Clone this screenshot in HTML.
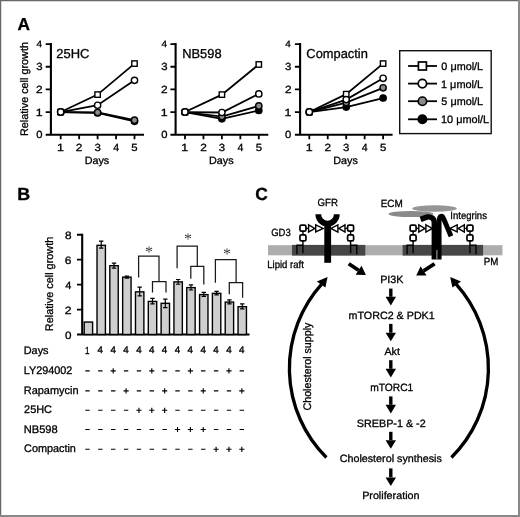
<!DOCTYPE html>
<html lang="en">
<head>
<meta charset="utf-8">
<title>Figure</title>
<style>
html,body{margin:0;padding:0;background:#fff;}
body{width:520px;height:517px;overflow:hidden;position:relative;}
#fig{position:absolute;left:0;top:0;width:520px;height:517px;box-sizing:border-box;background:#fff;}
svg{display:block;position:absolute;left:0;top:0;}
svg text{font-family:'Liberation Sans', sans-serif;fill:#000;stroke:#000;stroke-width:0.3px;text-rendering:geometricPrecision;}
</style>
</head>
<body>
<div id="fig">
<svg width="520" height="517" viewBox="0 0 520 517">
<rect x="0" y="0" width="520" height="517" fill="#fff"/>
<text transform="translate(17.57,30) scale(0.9950,1)" font-size="17.4" font-weight="bold">A</text>
<path d="M50.9 43.1 V134.7 M45.699999999999996 134.7 H144.00" fill="none" stroke="#000" stroke-width="2.1"/>
<path d="M45.70 112.05 H50.9 M45.70 89.4 H50.9 M45.70 66.75 H50.9 M45.70 44.1 H50.9 M60.70 134.7 V139.30 M79.15 134.7 V139.30 M97.60 134.7 V139.30 M116.05 134.7 V139.30 M134.50 134.7 V139.30 " fill="none" stroke="#000" stroke-width="1.8"/>
<text transform="translate(36.25,138.29999999999998) scale(1.0817,1)" font-size="10.4">0</text>
<text transform="translate(35.77,115.64999999999999) scale(1.1936,1)" font-size="10.4">1</text>
<text transform="translate(36.11,93.0) scale(1.1412,1)" font-size="10.4">2</text>
<text transform="translate(36.25,70.35) scale(1.0931,1)" font-size="10.4">3</text>
<text transform="translate(36.50,47.300000000000004) scale(1.0870,1)" font-size="9.2">4</text>
<text transform="translate(57.07,150.8) scale(1.1936,1)" font-size="10.4">1</text>
<text transform="translate(75.86,150.8) scale(1.1412,1)" font-size="10.4">2</text>
<text transform="translate(94.45,150.8) scale(1.0931,1)" font-size="10.4">3</text>
<text transform="translate(113.14,150.8) scale(1.0181,1)" font-size="10.4">4</text>
<text transform="translate(131.35,150.8) scale(1.0931,1)" font-size="10.4">5</text>
<text transform="translate(84.64,164.3) scale(1.0197,1)" font-size="10.6">Days</text>
<text transform="translate(56.35,58.4) scale(0.9966,1)" font-size="13">25HC</text>
<polyline points="60.70,112.05 97.60,112.96 134.50,121.34" fill="none" stroke="#000" stroke-width="1.8"/>
<polyline points="60.70,112.05 97.60,112.50 134.50,120.20" fill="none" stroke="#000" stroke-width="1.8"/>
<polyline points="60.70,112.05 97.60,94.61 134.50,63.58" fill="none" stroke="#000" stroke-width="1.8"/>
<polyline points="60.70,112.05 97.60,105.25 134.50,80.34" fill="none" stroke="#000" stroke-width="1.8"/>
<circle cx="60.70" cy="112.05" r="3.15" fill="#000" stroke="#000" stroke-width="1.4"/>
<circle cx="97.60" cy="112.96" r="3.15" fill="#000" stroke="#000" stroke-width="1.4"/>
<circle cx="134.50" cy="121.34" r="3.15" fill="#000" stroke="#000" stroke-width="1.4"/>
<circle cx="60.70" cy="112.05" r="3.15" fill="#8c8c8c" stroke="#000" stroke-width="1.4"/>
<circle cx="97.60" cy="112.50" r="3.15" fill="#8c8c8c" stroke="#000" stroke-width="1.4"/>
<circle cx="134.50" cy="120.20" r="3.15" fill="#8c8c8c" stroke="#000" stroke-width="1.4"/>
<rect x="58.00" y="109.35" width="5.4" height="5.4" fill="#fff" stroke="#000" stroke-width="1.4"/>
<rect x="94.90" y="91.91" width="5.4" height="5.4" fill="#fff" stroke="#000" stroke-width="1.4"/>
<rect x="131.80" y="60.88" width="5.4" height="5.4" fill="#fff" stroke="#000" stroke-width="1.4"/>
<circle cx="60.70" cy="112.05" r="3.15" fill="#fff" stroke="#000" stroke-width="1.4"/>
<circle cx="97.60" cy="105.25" r="3.15" fill="#fff" stroke="#000" stroke-width="1.4"/>
<circle cx="134.50" cy="80.34" r="3.15" fill="#fff" stroke="#000" stroke-width="1.4"/>
<path d="M175.6 43.1 V134.7 M170.4 134.7 H268.30" fill="none" stroke="#000" stroke-width="2.1"/>
<path d="M170.40 112.05 H175.6 M170.40 89.4 H175.6 M170.40 66.75 H175.6 M170.40 44.1 H175.6 M185.00 134.7 V139.30 M203.45 134.7 V139.30 M221.90 134.7 V139.30 M240.35 134.7 V139.30 M258.80 134.7 V139.30 " fill="none" stroke="#000" stroke-width="1.8"/>
<text transform="translate(161.25,138.29999999999998) scale(1.0817,1)" font-size="10.4">0</text>
<text transform="translate(160.77,115.64999999999999) scale(1.1936,1)" font-size="10.4">1</text>
<text transform="translate(161.11,93.0) scale(1.1412,1)" font-size="10.4">2</text>
<text transform="translate(161.25,70.35) scale(1.0931,1)" font-size="10.4">3</text>
<text transform="translate(161.50,47.300000000000004) scale(1.0870,1)" font-size="9.2">4</text>
<text transform="translate(181.37,150.8) scale(1.1936,1)" font-size="10.4">1</text>
<text transform="translate(200.16,150.8) scale(1.1412,1)" font-size="10.4">2</text>
<text transform="translate(218.75,150.8) scale(1.0931,1)" font-size="10.4">3</text>
<text transform="translate(237.44,150.8) scale(1.0181,1)" font-size="10.4">4</text>
<text transform="translate(255.65,150.8) scale(1.0931,1)" font-size="10.4">5</text>
<text transform="translate(208.94,164.3) scale(1.0197,1)" font-size="10.6">Days</text>
<text transform="translate(182.17,58.4) scale(0.9907,1)" font-size="13">NB598</text>
<polyline points="185.00,112.05 221.90,118.84 258.80,110.46" fill="none" stroke="#000" stroke-width="1.8"/>
<polyline points="185.00,112.05 221.90,116.58 258.80,105.93" fill="none" stroke="#000" stroke-width="1.8"/>
<polyline points="185.00,112.05 221.90,94.61 258.80,64.48" fill="none" stroke="#000" stroke-width="1.8"/>
<polyline points="185.00,112.05 221.90,112.50 258.80,93.93" fill="none" stroke="#000" stroke-width="1.8"/>
<circle cx="185.00" cy="112.05" r="3.15" fill="#000" stroke="#000" stroke-width="1.4"/>
<circle cx="221.90" cy="118.84" r="3.15" fill="#000" stroke="#000" stroke-width="1.4"/>
<circle cx="258.80" cy="110.46" r="3.15" fill="#000" stroke="#000" stroke-width="1.4"/>
<circle cx="185.00" cy="112.05" r="3.15" fill="#8c8c8c" stroke="#000" stroke-width="1.4"/>
<circle cx="221.90" cy="116.58" r="3.15" fill="#8c8c8c" stroke="#000" stroke-width="1.4"/>
<circle cx="258.80" cy="105.93" r="3.15" fill="#8c8c8c" stroke="#000" stroke-width="1.4"/>
<rect x="182.30" y="109.35" width="5.4" height="5.4" fill="#fff" stroke="#000" stroke-width="1.4"/>
<rect x="219.20" y="91.91" width="5.4" height="5.4" fill="#fff" stroke="#000" stroke-width="1.4"/>
<rect x="256.10" y="61.78" width="5.4" height="5.4" fill="#fff" stroke="#000" stroke-width="1.4"/>
<circle cx="185.00" cy="112.05" r="3.15" fill="#fff" stroke="#000" stroke-width="1.4"/>
<circle cx="221.90" cy="112.50" r="3.15" fill="#fff" stroke="#000" stroke-width="1.4"/>
<circle cx="258.80" cy="93.93" r="3.15" fill="#fff" stroke="#000" stroke-width="1.4"/>
<path d="M300.1 43.1 V134.7 M294.90000000000003 134.7 H392.60" fill="none" stroke="#000" stroke-width="2.1"/>
<path d="M294.90 112.05 H300.1 M294.90 89.4 H300.1 M294.90 66.75 H300.1 M294.90 44.1 H300.1 M309.30 134.7 V139.30 M327.75 134.7 V139.30 M346.20 134.7 V139.30 M364.65 134.7 V139.30 M383.10 134.7 V139.30 " fill="none" stroke="#000" stroke-width="1.8"/>
<text transform="translate(285.05,138.29999999999998) scale(1.0817,1)" font-size="10.4">0</text>
<text transform="translate(284.57,115.64999999999999) scale(1.1936,1)" font-size="10.4">1</text>
<text transform="translate(284.91,93.0) scale(1.1412,1)" font-size="10.4">2</text>
<text transform="translate(285.05,70.35) scale(1.0931,1)" font-size="10.4">3</text>
<text transform="translate(285.30,47.300000000000004) scale(1.0870,1)" font-size="9.2">4</text>
<text transform="translate(305.67,150.8) scale(1.1936,1)" font-size="10.4">1</text>
<text transform="translate(324.46,150.8) scale(1.1412,1)" font-size="10.4">2</text>
<text transform="translate(343.05,150.8) scale(1.0931,1)" font-size="10.4">3</text>
<text transform="translate(361.74,150.8) scale(1.0181,1)" font-size="10.4">4</text>
<text transform="translate(379.95,150.8) scale(1.0931,1)" font-size="10.4">5</text>
<text transform="translate(333.24,164.3) scale(1.0197,1)" font-size="10.6">Days</text>
<text transform="translate(306.36,58.4) scale(0.9894,1)" font-size="13">Compactin</text>
<polyline points="309.30,112.05 346.20,107.07 383.10,98.01" fill="none" stroke="#000" stroke-width="1.8"/>
<polyline points="309.30,112.05 346.20,102.54 383.10,87.81" fill="none" stroke="#000" stroke-width="1.8"/>
<polyline points="309.30,112.05 346.20,94.16 383.10,63.58" fill="none" stroke="#000" stroke-width="1.8"/>
<polyline points="309.30,112.05 346.20,99.59 383.10,78.30" fill="none" stroke="#000" stroke-width="1.8"/>
<circle cx="309.30" cy="112.05" r="3.15" fill="#000" stroke="#000" stroke-width="1.4"/>
<circle cx="346.20" cy="107.07" r="3.15" fill="#000" stroke="#000" stroke-width="1.4"/>
<circle cx="383.10" cy="98.01" r="3.15" fill="#000" stroke="#000" stroke-width="1.4"/>
<circle cx="309.30" cy="112.05" r="3.15" fill="#8c8c8c" stroke="#000" stroke-width="1.4"/>
<circle cx="346.20" cy="102.54" r="3.15" fill="#8c8c8c" stroke="#000" stroke-width="1.4"/>
<circle cx="383.10" cy="87.81" r="3.15" fill="#8c8c8c" stroke="#000" stroke-width="1.4"/>
<rect x="306.60" y="109.35" width="5.4" height="5.4" fill="#fff" stroke="#000" stroke-width="1.4"/>
<rect x="343.50" y="91.46" width="5.4" height="5.4" fill="#fff" stroke="#000" stroke-width="1.4"/>
<rect x="380.40" y="60.88" width="5.4" height="5.4" fill="#fff" stroke="#000" stroke-width="1.4"/>
<circle cx="309.30" cy="112.05" r="3.15" fill="#fff" stroke="#000" stroke-width="1.4"/>
<circle cx="346.20" cy="99.59" r="3.15" fill="#fff" stroke="#000" stroke-width="1.4"/>
<circle cx="383.10" cy="78.30" r="3.15" fill="#fff" stroke="#000" stroke-width="1.4"/>
<text transform="translate(27.6,135.97) rotate(-90) scale(0.9843,1)" font-size="11">Relative cell growth</text>
<rect x="399.7" y="50.7" width="91.5" height="82.9" fill="#fff" stroke="#111" stroke-width="1.4"/>
<path d="M408.1 66 H437" stroke="#000" stroke-width="1.8"/>
<rect x="418.40" y="62.00" width="8" height="8" fill="#fff" stroke="#000" stroke-width="1.7"/>
<text transform="translate(441.37,69.9) scale(1.0030,1)" font-size="10.8">0 μmol/L</text>
<path d="M408.1 83.6 H437" stroke="#000" stroke-width="1.8"/>
<circle cx="422.4" cy="83.6" r="4.2" fill="#fff" stroke="#000" stroke-width="1.7"/>
<text transform="translate(440.98,87.5) scale(1.0123,1)" font-size="10.8">1 μmol/L</text>
<path d="M408.1 101.2 H437" stroke="#000" stroke-width="1.8"/>
<circle cx="422.4" cy="101.2" r="4.2" fill="#8c8c8c" stroke="#000" stroke-width="1.7"/>
<text transform="translate(441.37,105.10000000000001) scale(1.0030,1)" font-size="10.8">5 μmol/L</text>
<path d="M408.1 119.3 H437" stroke="#000" stroke-width="1.8"/>
<circle cx="422.4" cy="119.3" r="4.2" fill="#000" stroke="#000" stroke-width="1.7"/>
<text transform="translate(440.98,123.2) scale(1.0109,1)" font-size="10.8">10 μmol/L</text>
<text transform="translate(17.24,199.9) scale(1.0163,1)" font-size="17.6" font-weight="bold">B</text>
<path d="M82.2 233.74 V334.5 M77.0 334.5 H249.5" fill="none" stroke="#000" stroke-width="2.1"/>
<path d="M77.0 309.56 H82.2 M77.0 284.62 H82.2 M77.0 259.68 H82.2 M77.0 234.74 H82.2 " fill="none" stroke="#000" stroke-width="1.8"/>
<text transform="translate(64.93,339.0) scale(1.1006,1)" font-size="10.6">0</text>
<text transform="translate(64.78,314.06) scale(1.1611,1)" font-size="10.6">2</text>
<text transform="translate(65.18,289.12) scale(1.0359,1)" font-size="10.6">4</text>
<text transform="translate(64.80,264.18) scale(1.1361,1)" font-size="10.6">6</text>
<text transform="translate(64.93,239.24) scale(1.1122,1)" font-size="10.6">8</text>
<text transform="translate(53.4,331.17) rotate(-90) scale(0.9907,1)" font-size="11">Relative cell growth</text>
<rect x="84.20" y="322.03" width="8.4" height="12.47" fill="#cfcfcf" stroke="#000" stroke-width="1.4"/>
<rect x="97.02" y="245.34" width="8.4" height="89.16" fill="#cfcfcf" stroke="#000" stroke-width="1.4"/>
<path d="M101.22 241.22 V248.08 M99.02 241.22 h4.4 M99.02 248.08 h4.4" fill="none" stroke="#000" stroke-width="1.2"/>
<rect x="109.84" y="265.67" width="8.4" height="68.83" fill="#cfcfcf" stroke="#000" stroke-width="1.4"/>
<path d="M114.04 263.17 V268.16 M111.84 263.17 h4.4 M111.84 268.16 h4.4" fill="none" stroke="#000" stroke-width="1.2"/>
<rect x="122.66" y="277.14" width="8.4" height="57.36" fill="#cfcfcf" stroke="#000" stroke-width="1.4"/>
<path d="M126.86 276.14 V278.14 M124.66 276.14 h4.4 M124.66 278.14 h4.4" fill="none" stroke="#000" stroke-width="1.2"/>
<rect x="135.48" y="291.85" width="8.4" height="42.65" fill="#cfcfcf" stroke="#000" stroke-width="1.4"/>
<path d="M139.68 287.11 V295.84 M137.48 287.11 h4.4 M137.48 295.84 h4.4" fill="none" stroke="#000" stroke-width="1.2"/>
<rect x="148.30" y="301.45" width="8.4" height="33.05" fill="#cfcfcf" stroke="#000" stroke-width="1.4"/>
<path d="M152.50 298.46 V303.95 M150.30 298.46 h4.4 M150.30 303.95 h4.4" fill="none" stroke="#000" stroke-width="1.2"/>
<rect x="161.12" y="303.32" width="8.4" height="31.18" fill="#cfcfcf" stroke="#000" stroke-width="1.4"/>
<path d="M165.32 299.09 V307.69 M163.12 299.09 h4.4 M163.12 307.69 h4.4" fill="none" stroke="#000" stroke-width="1.2"/>
<rect x="173.94" y="281.88" width="8.4" height="52.62" fill="#cfcfcf" stroke="#000" stroke-width="1.4"/>
<path d="M178.14 279.51 V284.25 M175.94 279.51 h4.4 M175.94 284.25 h4.4" fill="none" stroke="#000" stroke-width="1.2"/>
<rect x="186.76" y="287.61" width="8.4" height="46.89" fill="#cfcfcf" stroke="#000" stroke-width="1.4"/>
<path d="M190.96 284.87 V289.98 M188.76 284.87 h4.4 M188.76 289.98 h4.4" fill="none" stroke="#000" stroke-width="1.2"/>
<rect x="199.58" y="294.6" width="8.4" height="39.90" fill="#cfcfcf" stroke="#000" stroke-width="1.4"/>
<path d="M203.78 292.35 V296.47 M201.58 292.35 h4.4 M201.58 296.47 h4.4" fill="none" stroke="#000" stroke-width="1.2"/>
<rect x="212.40" y="293.35" width="8.4" height="41.15" fill="#cfcfcf" stroke="#000" stroke-width="1.4"/>
<path d="M216.60 291.35 V294.97 M214.40 291.35 h4.4 M214.40 294.97 h4.4" fill="none" stroke="#000" stroke-width="1.2"/>
<rect x="225.22" y="302.08" width="8.4" height="32.42" fill="#cfcfcf" stroke="#000" stroke-width="1.4"/>
<path d="M229.42 299.96 V303.95 M227.22 299.96 h4.4 M227.22 303.95 h4.4" fill="none" stroke="#000" stroke-width="1.2"/>
<rect x="238.04" y="306.69" width="8.4" height="27.81" fill="#cfcfcf" stroke="#000" stroke-width="1.4"/>
<path d="M242.24 303.95 V308.94 M240.04 303.95 h4.4 M240.04 308.94 h4.4" fill="none" stroke="#000" stroke-width="1.2"/>
<path d="M138.6 277.6 V256 H159 V281.5 M152.5 292.4 V281.5 H166 V292.4 M177.1 268.3 V246.2 H197.3 V266.4 M190.8 278.7 V266.4 H203.8 V284.5 M215.4 282.7 V259.5 H236.1 V282.7 M229.3 294.3 V282.7 H242.6 V297.8" fill="none" stroke="#1a1a1a" stroke-width="1.25"/>
<text x="149.1" y="256.7" font-size="16" text-anchor="middle" style="font-family:'Liberation Serif','DejaVu Serif',serif;fill:#3a3a3a;stroke:none">*</text>
<text x="188.1" y="243.5" font-size="16" text-anchor="middle" style="font-family:'Liberation Serif','DejaVu Serif',serif;fill:#3a3a3a;stroke:none">*</text>
<text x="226.9" y="259.0" font-size="16" text-anchor="middle" style="font-family:'Liberation Serif','DejaVu Serif',serif;fill:#3a3a3a;stroke:none">*</text>
<text transform="translate(23.73,353.6) scale(0.9910,1)" font-size="11">Days</text>
<text transform="translate(23.73,374) scale(0.9853,1)" font-size="11">LY294002</text>
<text transform="translate(23.72,394) scale(0.9962,1)" font-size="11">Rapamycin</text>
<text transform="translate(24.05,413.4) scale(0.9937,1)" font-size="11">25HC</text>
<text transform="translate(23.71,432.6) scale(1.0098,1)" font-size="11">NB598</text>
<text transform="translate(24.06,452.4) scale(0.9861,1)" font-size="11">Compactin</text>
<text transform="translate(84.95,353.9) scale(0.7888,1)" font-size="10.2">1</text>
<text transform="translate(97.56,353.1) scale(1.0107,1)" font-size="9.7">4</text>
<text transform="translate(110.42,353.1) scale(1.0107,1)" font-size="9.7">4</text>
<text transform="translate(123.28,353.1) scale(1.0107,1)" font-size="9.7">4</text>
<text transform="translate(136.14,353.1) scale(1.0107,1)" font-size="9.7">4</text>
<text transform="translate(149.00,353.1) scale(1.0107,1)" font-size="9.7">4</text>
<text transform="translate(161.86,353.1) scale(1.0107,1)" font-size="9.7">4</text>
<text transform="translate(174.72,353.1) scale(1.0107,1)" font-size="9.7">4</text>
<text transform="translate(187.58,353.1) scale(1.0107,1)" font-size="9.7">4</text>
<text transform="translate(200.44,353.1) scale(1.0107,1)" font-size="9.7">4</text>
<text transform="translate(213.30,353.1) scale(1.0107,1)" font-size="9.7">4</text>
<text transform="translate(226.16,353.1) scale(1.0107,1)" font-size="9.7">4</text>
<text transform="translate(239.02,353.1) scale(1.0107,1)" font-size="9.7">4</text>
<path d="M85.30 370.90 h4.4 M98.16 370.90 h4.4 M110.62 370.90 h5.2 M113.22 368.30 v5.2 M123.88 370.90 h4.4 M136.74 370.90 h4.4 M149.20 370.90 h5.2 M151.80 368.30 v5.2 M162.46 370.90 h4.4 M175.32 370.90 h4.4 M187.78 370.90 h5.2 M190.38 368.30 v5.2 M201.04 370.90 h4.4 M213.90 370.90 h4.4 M226.36 370.90 h5.2 M228.96 368.30 v5.2 M239.62 370.90 h4.4 M85.30 390.90 h4.4 M98.16 390.90 h4.4 M111.02 390.90 h4.4 M123.48 390.90 h5.2 M126.08 388.30 v5.2 M136.74 390.90 h4.4 M149.60 390.90 h4.4 M162.06 390.90 h5.2 M164.66 388.30 v5.2 M175.32 390.90 h4.4 M188.18 390.90 h4.4 M200.64 390.90 h5.2 M203.24 388.30 v5.2 M213.90 390.90 h4.4 M226.76 390.90 h4.4 M239.22 390.90 h5.2 M241.82 388.30 v5.2 M85.30 410.30 h4.4 M98.16 410.30 h4.4 M111.02 410.30 h4.4 M123.88 410.30 h4.4 M136.34 410.30 h5.2 M138.94 407.70 v5.2 M149.20 410.30 h5.2 M151.80 407.70 v5.2 M162.06 410.30 h5.2 M164.66 407.70 v5.2 M175.32 410.30 h4.4 M188.18 410.30 h4.4 M201.04 410.30 h4.4 M213.90 410.30 h4.4 M226.76 410.30 h4.4 M239.62 410.30 h4.4 M85.30 429.50 h4.4 M98.16 429.50 h4.4 M111.02 429.50 h4.4 M123.88 429.50 h4.4 M136.74 429.50 h4.4 M149.60 429.50 h4.4 M162.46 429.50 h4.4 M174.92 429.50 h5.2 M177.52 426.90 v5.2 M187.78 429.50 h5.2 M190.38 426.90 v5.2 M200.64 429.50 h5.2 M203.24 426.90 v5.2 M213.90 429.50 h4.4 M226.76 429.50 h4.4 M239.62 429.50 h4.4 M85.30 449.30 h4.4 M98.16 449.30 h4.4 M111.02 449.30 h4.4 M123.88 449.30 h4.4 M136.74 449.30 h4.4 M149.60 449.30 h4.4 M162.46 449.30 h4.4 M175.32 449.30 h4.4 M188.18 449.30 h4.4 M201.04 449.30 h4.4 M213.50 449.30 h5.2 M216.10 446.70 v5.2 M226.36 449.30 h5.2 M228.96 446.70 v5.2 M239.22 449.30 h5.2 M241.82 446.70 v5.2 " fill="none" stroke="#000" stroke-width="1.1"/>
<text transform="translate(255.20,199.9) scale(0.9889,1)" font-size="17.6" font-weight="bold">C</text>
<rect x="268" y="245.2" width="234.5" height="10.1" fill="#adadad"/>
<rect x="292" y="244.9" width="73.3" height="10.7" fill="#464646"/>
<rect x="402.6" y="244.9" width="80.5" height="10.7" fill="#464646"/>
<path d="M302.95 231 V235 M302.95 240.7 V253.2 M302.95 245.3 H296.9 V254.2 M302.95 228.4 H308.6" fill="none" stroke="#000" stroke-width="1.4"/>
<rect x="299.95" y="225.20" width="6.0" height="6.0" rx="1.5" fill="#fff" stroke="#000" stroke-width="1.7"/>
<rect x="299.95" y="234.90" width="6.0" height="6.0" rx="1.5" fill="#fff" stroke="#000" stroke-width="1.7"/>
<path d="M308.60 224.8 L314.80 228.4 L308.60 232.0 Z" fill="#fff" stroke="#000" stroke-width="1.4" stroke-linejoin="miter"/>
<path d="M315.70 224.8 L323.20 228.4 L315.70 232.0 Z" fill="#fff" stroke="#000" stroke-width="1.4" stroke-linejoin="miter"/>
<path d="M350.6 231 V235 M350.6 240.7 V253.2 M350.6 245.3 H356.8 V254.2 M350.6 228.4 H345.0" fill="none" stroke="#000" stroke-width="1.4"/>
<rect x="347.60" y="225.20" width="6.0" height="6.0" rx="1.5" fill="#fff" stroke="#000" stroke-width="1.7"/>
<rect x="347.60" y="234.90" width="6.0" height="6.0" rx="1.5" fill="#fff" stroke="#000" stroke-width="1.7"/>
<path d="M345.00 224.8 L338.80 228.4 L345.00 232.0 Z" fill="#fff" stroke="#000" stroke-width="1.4" stroke-linejoin="miter"/>
<path d="M337.90 224.8 L330.90 228.4 L337.90 232.0 Z" fill="#fff" stroke="#000" stroke-width="1.4" stroke-linejoin="miter"/>
<path d="M413.1 231 V235 M413.1 240.7 V253.2 M413.1 245.3 H407.1 V254.2 M413.1 228.4 H418.8" fill="none" stroke="#000" stroke-width="1.4"/>
<rect x="410.10" y="225.20" width="6.0" height="6.0" rx="1.5" fill="#fff" stroke="#000" stroke-width="1.7"/>
<rect x="410.10" y="234.90" width="6.0" height="6.0" rx="1.5" fill="#fff" stroke="#000" stroke-width="1.7"/>
<path d="M418.80 224.8 L425.00 228.4 L418.80 232.0 Z" fill="#fff" stroke="#000" stroke-width="1.4" stroke-linejoin="miter"/>
<path d="M425.90 224.8 L432.40 228.4 L425.90 232.0 Z" fill="#fff" stroke="#000" stroke-width="1.4" stroke-linejoin="miter"/>
<path d="M469.95 231 V235 M469.95 240.7 V253.2 M469.95 245.3 H476.0 V254.2 M469.95 228.4 H464.3" fill="none" stroke="#000" stroke-width="1.4"/>
<rect x="466.95" y="225.20" width="6.0" height="6.0" rx="1.5" fill="#fff" stroke="#000" stroke-width="1.7"/>
<rect x="466.95" y="234.90" width="6.0" height="6.0" rx="1.5" fill="#fff" stroke="#000" stroke-width="1.7"/>
<path d="M464.30 224.8 L458.10 228.4 L464.30 232.0 Z" fill="#fff" stroke="#000" stroke-width="1.4" stroke-linejoin="miter"/>
<path d="M457.20 224.8 L449.80 228.4 L457.20 232.0 Z" fill="#fff" stroke="#000" stroke-width="1.4" stroke-linejoin="miter"/>
<rect x="324.3" y="222" width="6.8" height="40.8" fill="#000"/>
<path d="M318.3 214.3 A9.25 9.25 0 0 0 336.8 214.3" fill="none" stroke="#000" stroke-width="5.8" stroke-linecap="butt"/>
<ellipse cx="434.5" cy="208.5" rx="22.3" ry="3.3" fill="#959595"/>
<ellipse cx="411" cy="214" rx="22.5" ry="3.1" fill="#8a8a8a"/>
<path d="M434.3 259.5 V223 C434.3 218 431 216.6 427.5 216.9 L420.6 219.4" fill="none" stroke="#000" stroke-width="5.4" stroke-linejoin="round"/>
<path d="M439.1 259.5 V221.5 C439.1 214.8 442.3 215 443.8 219 L451.0 236.3" fill="none" stroke="#000" stroke-width="4.9" stroke-linejoin="round"/>
<path d="M436.9 250 V259.6" fill="none" stroke="#fff" stroke-width="0.7"/>
<text transform="translate(317.52,206.2) scale(0.9305,1)" font-size="10.4">GFR</text>
<text transform="translate(380.70,206.5) scale(0.9569,1)" font-size="10.4">ECM</text>
<text transform="translate(450.34,219) scale(0.9175,1)" font-size="10.4">Integrins</text>
<text transform="translate(271.22,236.0) scale(0.9151,1)" font-size="10.4">GD3</text>
<text transform="translate(267.24,267.8) scale(0.9179,1)" font-size="10.4">Lipid raft</text>
<text transform="translate(483.72,265.3) scale(0.9363,1)" font-size="10.4">PM</text>
<path d="M348.75 263.75 L358.56 270.24" stroke="#000" stroke-width="3.8" fill="none"/>
<path d="M365.90 275.10 L355.58 274.75 L361.54 265.74 Z" fill="#000"/>
<path d="M434.60 263.75 L423.60 270.84" stroke="#000" stroke-width="3.8" fill="none"/>
<path d="M416.20 275.60 L420.67 266.30 L426.52 275.38 Z" fill="#000"/>
<path d="M390.80 288.60 L390.80 296.80" stroke="#000" stroke-width="3.4" fill="none"/>
<path d="M390.80 305.40 L385.60 296.80 L396.00 296.80 Z" fill="#000"/>
<path d="M390.80 323.90 L390.80 332.70" stroke="#000" stroke-width="3.4" fill="none"/>
<path d="M390.80 341.30 L385.60 332.70 L396.00 332.70 Z" fill="#000"/>
<path d="M390.80 360.20 L390.80 368.80" stroke="#000" stroke-width="3.4" fill="none"/>
<path d="M390.80 377.40 L385.60 368.80 L396.00 368.80 Z" fill="#000"/>
<path d="M390.80 396.40 L390.80 404.80" stroke="#000" stroke-width="3.4" fill="none"/>
<path d="M390.80 413.40 L385.60 404.80 L396.00 404.80 Z" fill="#000"/>
<path d="M390.80 431.80 L390.80 440.20" stroke="#000" stroke-width="3.4" fill="none"/>
<path d="M390.80 448.80 L385.60 440.20 L396.00 440.20 Z" fill="#000"/>
<path d="M390.80 468.40 L390.80 477.40" stroke="#000" stroke-width="3.4" fill="none"/>
<path d="M390.80 486.00 L385.60 477.40 L396.00 477.40 Z" fill="#000"/>
<text transform="translate(380.14,282.8) scale(1.0139,1)" font-size="10.6">PI3K</text>
<text transform="translate(348.60,319.0) scale(1.0112,1)" font-size="10.6">mTORC2 &amp; PDK1</text>
<text transform="translate(384.40,354.9) scale(1.0124,1)" font-size="10.6">Akt</text>
<text transform="translate(370.13,391.2) scale(0.9699,1)" font-size="10.6">mTORC1</text>
<text transform="translate(356.81,426.6) scale(1.0176,1)" font-size="10.6">SREBP-1 &amp; -2</text>
<text transform="translate(339.66,461.5) scale(1.0145,1)" font-size="10.6">Cholesterol synthesis</text>
<text transform="translate(362.14,498.7) scale(1.0143,1)" font-size="10.6">Proliferation</text>
<path d="M451.4 457.5 A125.9 125.9 0 0 0 455.9 283.9" fill="none" stroke="#000" stroke-width="3.3"/>
<path d="M450.2 277.0 L461.0 281.6 L452.4 287.6 Z" fill="#000"/>
<path d="M326.4 457.5 A125.9 125.9 0 0 1 321.9 283.9" fill="none" stroke="#000" stroke-width="3.3"/>
<path d="M327.6 277.0 L316.8 281.6 L325.4 287.6 Z" fill="#000"/>
<text transform="translate(311.3,410.53) rotate(-90) scale(0.9719,1)" font-size="11">Cholesterol supply</text>
<path d="M0 0.6 H520 M0.6 0 V517" stroke="#686868" stroke-width="1.25" fill="none"/>
<path d="M519 0 V517" stroke="#8a8a8a" stroke-width="2" fill="none"/>
<path d="M0 516 H520" stroke="#8a8a8a" stroke-width="2.1" fill="none"/>
</svg>
</div>
</body>
</html>
